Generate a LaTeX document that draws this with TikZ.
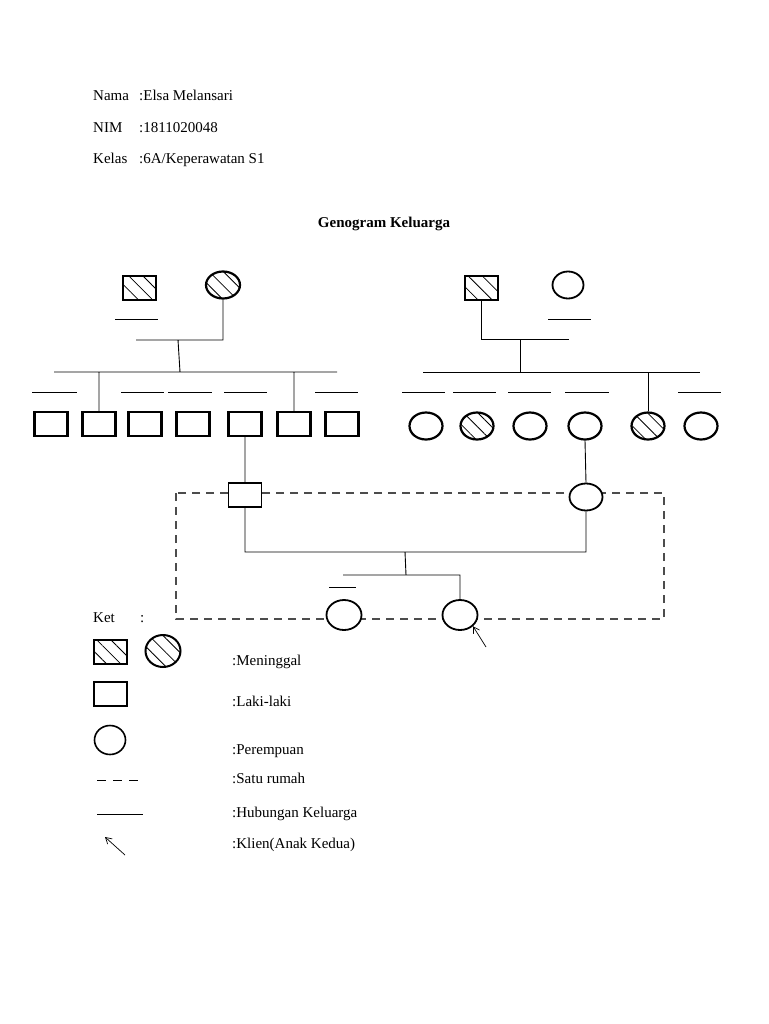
\documentclass[tikz,border=0pt]{standalone}
\usepackage{fontspec}
\setmainfont{Liberation Serif}
\usetikzlibrary{positioning,shapes.geometric,patterns.meta,arrows.meta}

\tikzset{
  male/.style={draw, rectangle, fill=white, line width=2.4pt, minimum width=33pt, minimum height=24pt, inner sep=0pt},
  female/.style={draw, ellipse, fill=white, line width=2.2pt, minimum width=33pt, minimum height=27pt, inner sep=0pt},
  dead/.style={postaction={pattern={Lines[angle=-45,distance=10pt,line width=0.8pt]}}},
  rel/.style={line width=0.9pt},
  house/.style={draw=black!70, line width=1.3pt, dash pattern=on 8pt off 6pt},
  client/.style={line width=0.7pt, -{Straight Barb[length=6pt,width=7pt]}},
  txt/.style={anchor=base west, inner sep=0pt}
}

\begin{document}
\begin{tikzpicture}[x=1pt, y=-1pt, font=\fontsize{15}{17}\selectfont]
  \useasboundingbox[fill=white] (0,0) rectangle (768,1024);

  % identitas
  \node[txt] (nama) at (93,101) {Nama};
  \node[txt] (namav) at (139,101) {:Elsa Melansari};
  \node[txt] (nim) at (93,133) {NIM};
  \node[txt] (nimv) at (139,133) {:1811020048};
  \node[txt] (kelas) at (93,164) {Kelas};
  \node[txt] (kelasv) at (139,164) {:6A/Keperawatan S1};
  \node[anchor=base, inner sep=0pt, font=\fontsize{15}{17}\selectfont\bfseries] (title) at (384,227) {Genogram Keluarga};

  % satu rumah
  \draw[house] (176,493) rectangle (664,619);

  % kakek nenek
  \node[male, dead, line width=2pt] (gf1) at (139,288) {};
  \node[female, dead, minimum width=34pt] (gm1) at (223,285) {};
  \node[male, dead, line width=2pt] (gf2) at (481,288) {};
  \node[female, line width=1.8pt, minimum width=31pt] (gm2) at (568,285) {};
  \draw[rel] (115,319) -- (158,319)
             (548,319) -- (591,319);

  % anak-anak
  \foreach \x [count=\i] in {51,99,145,193,245,294,342}
    \node[male] (a\i) at (\x,424) {};
  \foreach \x/\s [count=\i] in {426/,477/dead,530/,585/,648/dead,701/}
    \node[female, \s] (b\i) at (\x,426) {};
  \foreach \l/\r in {32/77,121/164,168/212,224/267,315/358,402/445,453/496,508/551,565/609,678/721}
    \draw[rel] (\l,392) -- (\r,392);

  \coordinate (j1) at (136,340);
  \coordinate (j2) at (569,339);
  \coordinate (bar1l) at (54,372);
  \coordinate (bar1r) at (337,372);
  \coordinate (bar2l) at (423,372);
  \coordinate (bar2r) at (700,372);
  \draw[rel] (gm1.south) |- (j1)
             (178,340) -- (180,372)
             (bar1l) -- (bar1r)
             (a2.north) -- (a2.north |- bar1l)
             (a6.north) -- (a6.north |- bar1l);
  \draw[rel] (gf2.south) |- (j2)
             (520,339) -- (520,372)
             (bar2l) -- (bar2r)
             (b5.north) -- (b5.north |- bar2l);

  % orang tua klien
  \node[male, line width=1.6pt] (fa) at (245,495) {};
  \node[female, line width=1.8pt] (mo) at (586,497) {};
  \draw[rel] (a5.south) -- (fa.north)
             (b4.south) -- (mo.north);
  \coordinate (k1) at (405,552);
  \coordinate (k2) at (406,575);
  \coordinate (k3) at (343,575);
  \draw[rel] (fa.south) |- (k1) -| (mo.south)
             (k1) -- (k2)
             (k3) -| (460,600);

  % klien dan saudara
  \node[female, line width=1.8pt, minimum width=35pt, minimum height=30pt] (c1) at (344,615) {};
  \node[female, line width=1.8pt, minimum width=35pt, minimum height=30pt] (c2) at (460,615) {};
  \draw[rel] (329,587) -- (356,587);
  \coordinate (pt) at (486,647);
  \draw[client] (pt) -- (c2.south east);

  % keterangan
  \node[txt] (ket) at (93,622) {Ket};
  \node[txt] (ketc) at (140,622) {:};
  \node[male, dead, line width=2pt] (ldead) at (110,652) {};
  \node[female, dead, line width=2pt, minimum width=35pt, minimum height=32pt] (ldeadf) at (163,651) {};
  \node[male, line width=2pt] (lmale) at (110,694) {};
  \node[female, line width=1.6pt, minimum width=31pt, minimum height=29pt] (lfem) at (110,740) {};
  \draw[rel, dash pattern=on 9pt off 7pt] (97,780) -- (138,780);
  \draw[rel] (97,814) -- (143,814);
  \coordinate (lpt) at (125,855);
  \coordinate (lend) at (105,837);
  \draw[client] (lpt) -- (lend);
  \node[txt] (lmen) at (232,665) {:Meninggal};
  \node[txt] (llaki) at (232,706) {:Laki-laki};
  \node[txt] (lper) at (232,754) {:Perempuan};
  \node[txt] (lrum) at (232,783) {:Satu rumah};
  \node[txt] (lhub) at (232,817) {:Hubungan Keluarga};
  \node[txt] (lkli) at (232,848) {:Klien(Anak Kedua)};
\end{tikzpicture}
\end{document}
